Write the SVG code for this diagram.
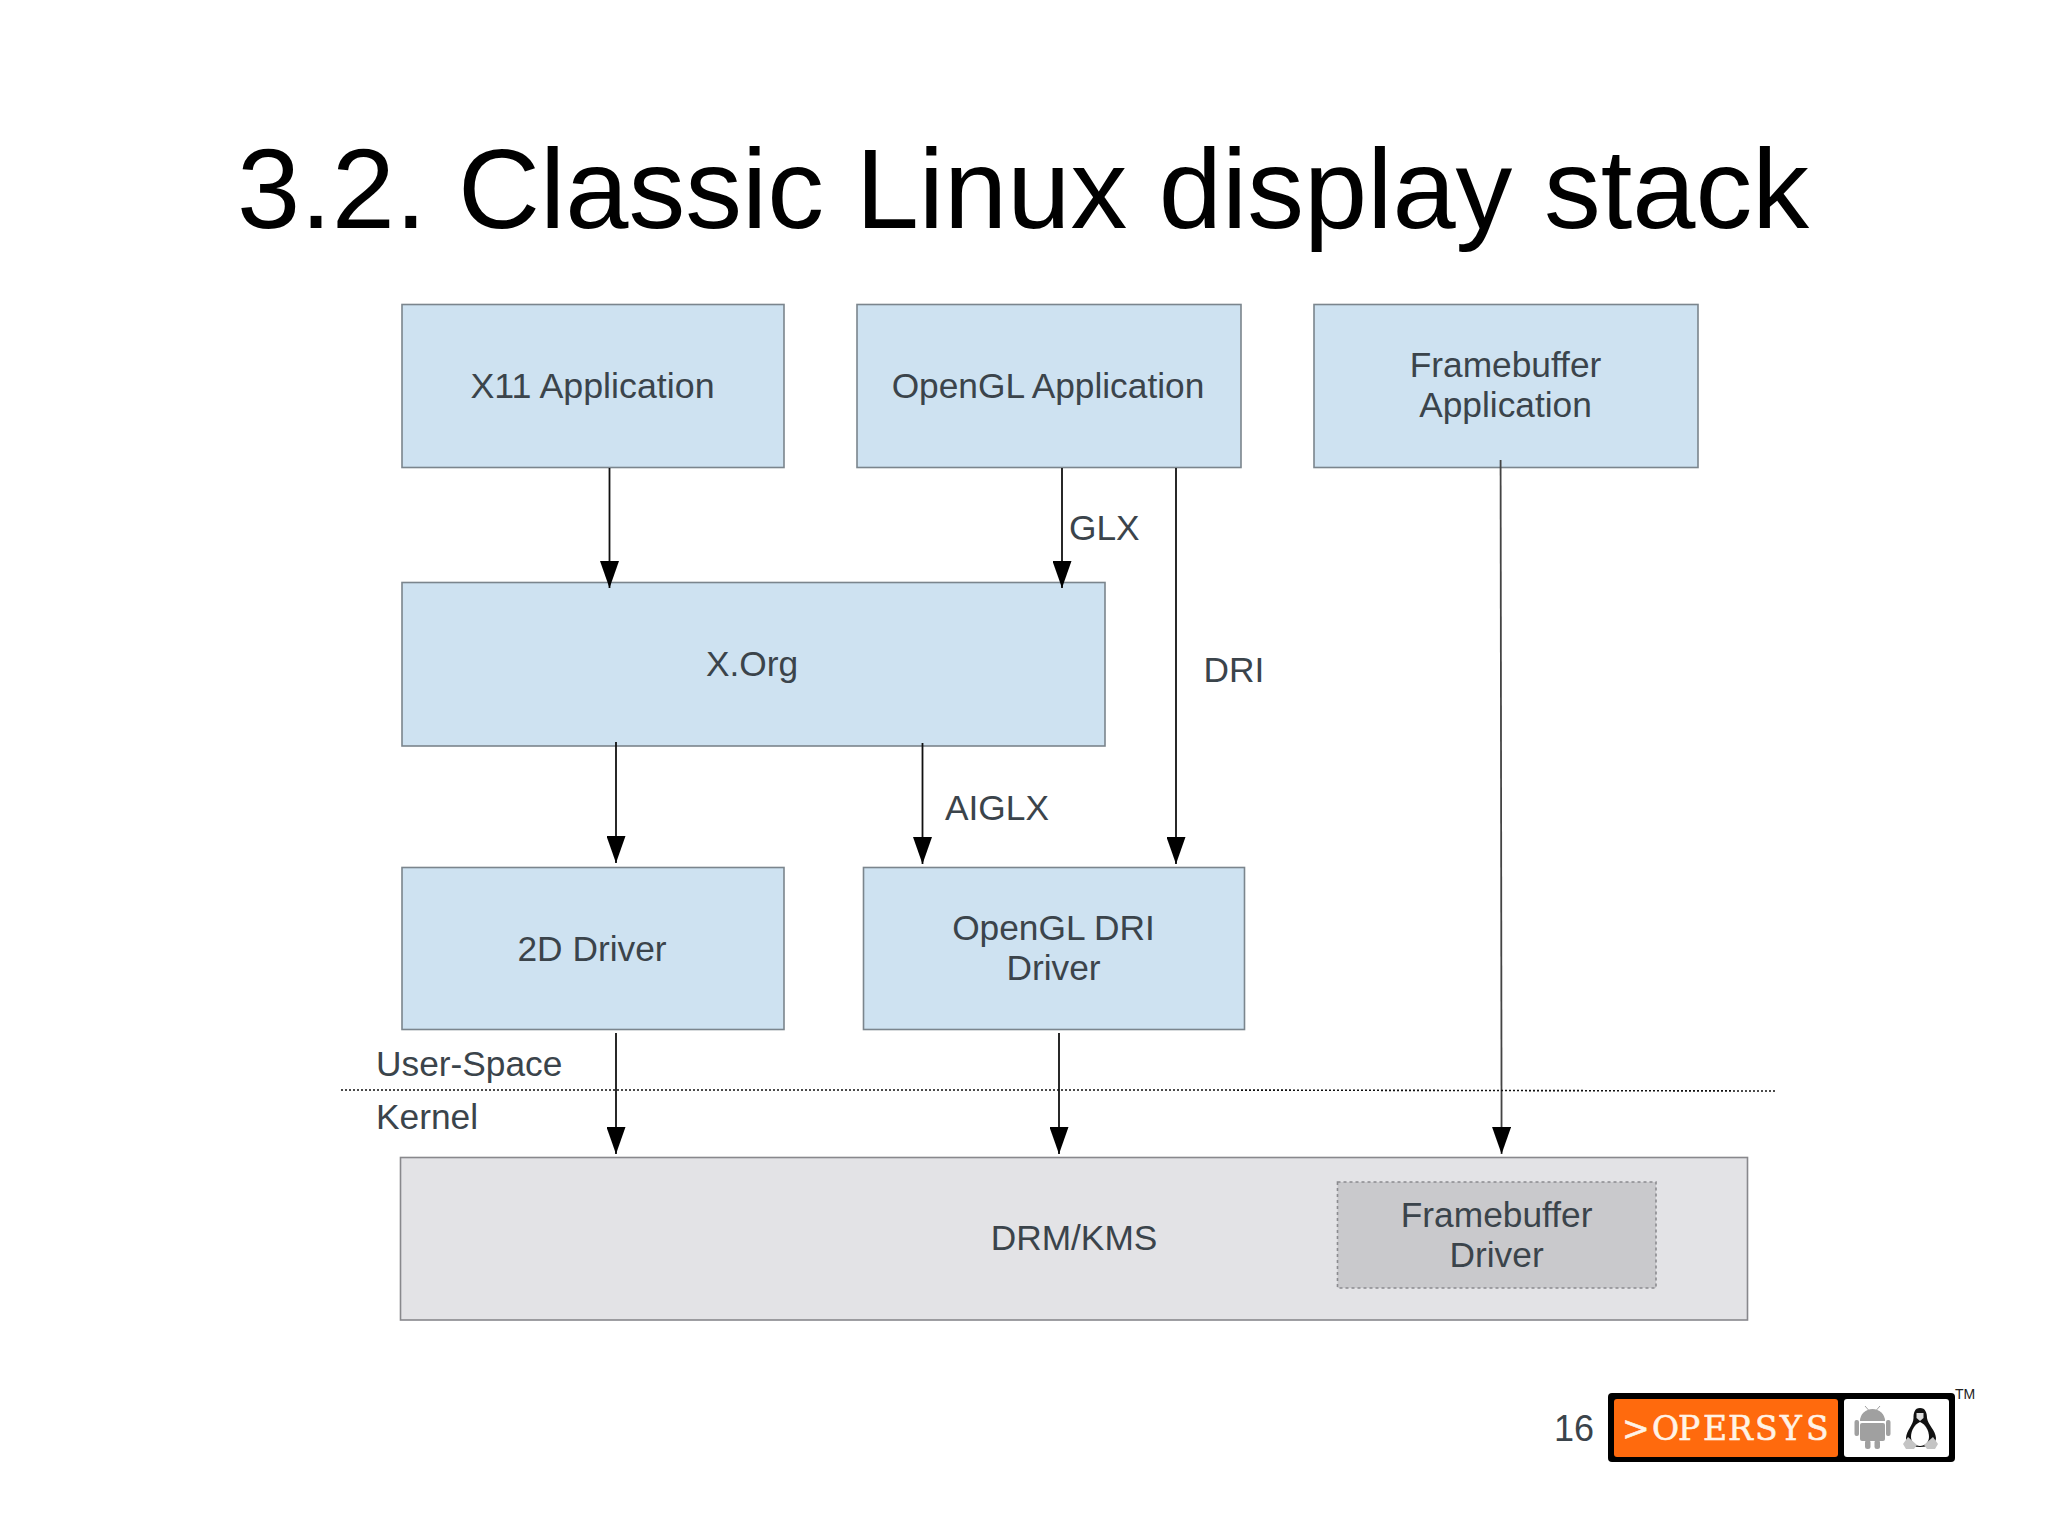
<svg xmlns="http://www.w3.org/2000/svg" width="2048" height="1535" viewBox="0 0 2048 1535">
<style>
text{font-family:"Liberation Sans",Arial,sans-serif;fill:#3b444b;font-size:35.3px}
.m{text-anchor:middle}
.n{fill:#cee2f1;stroke:#7b858d;stroke-width:1.6}
.k{fill:#e3e3e6;stroke:#88888c;stroke-width:1.6}
.c{fill:none;stroke:#111;stroke-width:1.8}
</style>
<defs><marker id="a" markerUnits="userSpaceOnUse" markerWidth="27" markerHeight="19" refX="27" refY="9.500" orient="auto" viewBox="0 0 27 19"><path d="M0 0 L27 9.500 L0 19Z" fill="#000"/></marker></defs>
<rect width="2048" height="1535" fill="#fff"/>
<text id="title" x="237" y="228" style="font-size:113.600px;fill:#000">3.2. Classic Linux display stack</text>
<g id="nodes">
<g id="x11"><rect class="n" x="402" y="304.500" width="382" height="163"/><text class="m" x="592.500" y="398" style="font-size:35.800px">X11 Application</text></g>
<g id="opengl-app"><rect class="n" x="857" y="304.500" width="384" height="163"/><text class="m" x="1048" y="398">OpenGL Application</text></g>
<g id="fb-app"><rect class="n" x="1314" y="304.500" width="384" height="163"/><text class="m" x="1505.500" y="377">Framebuffer</text><text class="m" x="1505.500" y="417">Application</text></g>
<g id="xorg"><rect class="n" x="402" y="582.500" width="703" height="163.500"/><text class="m" x="752" y="676">X.Org</text></g>
<g id="driver-2d"><rect class="n" x="402" y="867.500" width="382" height="162"/><text class="m" x="592" y="961">2D Driver</text></g>
<g id="opengl-dri"><rect class="n" x="863.500" y="867.500" width="381" height="162"/><text class="m" x="1053.500" y="940">OpenGL DRI</text><text class="m" x="1053.500" y="980">Driver</text></g>
<g id="drm"><rect class="k" x="400.500" y="1157.500" width="1347" height="162.500"/><text class="m" x="1074" y="1250">DRM/KMS</text></g>
<g id="fb-driver"><rect x="1337.500" y="1182" width="318.500" height="106" fill="#c9c9cc" stroke="#8b8b8f" stroke-width="1.6" stroke-dasharray="3 3"/><text class="m" x="1496.600" y="1227">Framebuffer</text><text class="m" x="1496.600" y="1267">Driver</text></g>
</g>
<g id="connectors">
<path class="c" d="M609.500 468V588" marker-end="url(#a)"/>
<path class="c" d="M1062 468V588" marker-end="url(#a)"/>
<path class="c" d="M1176 468V864" marker-end="url(#a)"/>
<path class="c" d="M616 742V863" marker-end="url(#a)"/>
<path class="c" d="M922.500 743V864" marker-end="url(#a)"/>
<path class="c" d="M616 1033V1154" marker-end="url(#a)"/>
<path class="c" d="M1059 1033V1154" marker-end="url(#a)"/>
<path d="M1500.600 460L1501.600 1154" fill="none" stroke="#444" stroke-width="1.8" marker-end="url(#a)"/>
<path id="divider" d="M341 1090L1190 1090L1775 1091" fill="none" stroke="#111" stroke-width="1.6" stroke-dasharray="2 2"/>
</g>
<g id="labels">
<text x="1069" y="540">GLX</text>
<text x="1203.500" y="682">DRI</text>
<text x="945" y="820">AIGLX</text>
<text x="376" y="1076">User-Space</text>
<text x="376" y="1129">Kernel</text>
</g>
<g id="footer">
<text x="1554" y="1441" style="font-size:36px">16</text>
<rect x="1608" y="1393" width="347" height="69" rx="4" fill="#000"/>
<rect x="1614" y="1399" width="224" height="58" rx="3" fill="#ff6a0d"/>
<rect x="1844" y="1399" width="105" height="58" rx="3" fill="#fff"/>
<text x="1622 1652 1678 1703 1728 1755 1780 1806" y="1440" style="font-family:'DejaVu Serif',serif;font-size:33px;fill:#fff3e6;stroke:#fff3e6;stroke-width:0.6">&gt;OPERSYS</text>
<text x="1955" y="1399" style="font-size:14px;fill:#222">TM</text>
<g id="android" fill="#a0a0a0">
<path d="M1860 1421a12.500 12 0 0 1 25 0Z"/><rect x="1860" y="1423" width="25" height="18" rx="2"/>
<rect x="1854.500" y="1420" width="4.500" height="16" rx="2"/><rect x="1886" y="1420" width="4.500" height="16" rx="2"/>
<rect x="1865" y="1440" width="5.500" height="9" rx="2.500"/><rect x="1874.500" y="1440" width="5.500" height="9" rx="2.500"/>
<path d="M1865 1406l3.500 4M1880 1406l-3.500 4" stroke="#a0a0a0" fill="none"/>
</g>
<g id="tux">
<path d="M1920 1408c-5.500 0-6.500 5-6.500 10c0 7-7 12-7.500 20c0 5 3 9 14 9s16-4 16-9c-.5-8-8-13-9-20c0-5-1.500-10-7-10Z" fill="#111"/>
<path d="M1920 1422c-5 2-9 8-9 15c0 5 4 9 9 9s9-4 9-9c0-7-4-13-9-15Z" fill="#fff"/>
<path d="M1916.500 1413h7v5l-3.500 3l-3.500-3Z" fill="#ddd"/>
<path d="M1903 1444l5-7l9 8l-3 4h-8Z M1938 1444l-5-7l-9 8l3 4h8Z" fill="#c4c4c4"/>
</g>
</g>
</svg>
